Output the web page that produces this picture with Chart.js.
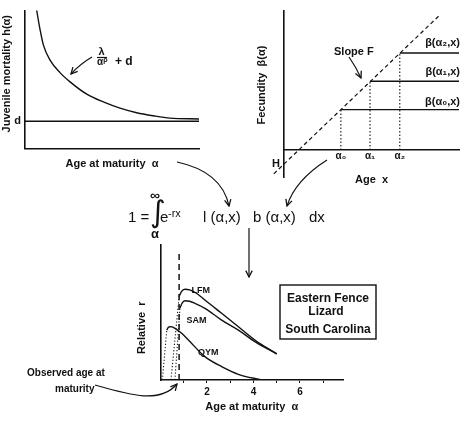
<!DOCTYPE html>
<html>
<head>
<meta charset="utf-8">
<script src="https://cdn.jsdelivr.net/npm/chart.js@4.4.0/dist/chart.umd.min.js"></script>
<style>
  body { margin: 0; background: #fff; }
  #wrap { position: relative; width: 474px; height: 428px; overflow: hidden; }
  #wrap canvas, #wrap svg { position: absolute; left: 0; top: 0; }
</style>
</head>
<body>
<div id="wrap">
  <canvas id="mortchart" width="474" height="428"></canvas>
  <canvas id="fecchart" width="474" height="428"></canvas>
  <canvas id="relchart" width="474" height="428"></canvas>
  <svg id="notes" width="474" height="428" viewBox="0 0 474 428">
    <defs>
      <marker id="tip" viewBox="0 0 10 10" refX="9" refY="5" markerUnits="userSpaceOnUse" markerWidth="8" markerHeight="8" orient="auto">
        <path d="M1,1 L9,5 L1,9" fill="none" stroke="#111" stroke-width="1.6"/>
      </marker>
    </defs>
    <g fill="none" stroke="#111" stroke-width="1.2">
      <path d="M92,57 Q80,64 71,74" marker-end="url(#tip)"/>
      <path d="M349,57 Q356,67 361,78" marker-end="url(#tip)"/>
      <path d="M177,162 C205,168 224,182 229,206" marker-end="url(#tip)"/>
      <path d="M327,160 C305,174 292,190 287,206" marker-end="url(#tip)"/>
      <path d="M249,228 L249,277" marker-end="url(#tip)"/>
      <path d="M95,385 C130,395 160,404 177,384" marker-end="url(#tip)"/>
      <path d="M97,57.5 H107"/>
      <rect x="280" y="285" width="96" height="54" stroke-width="1.4"/>
    </g>
    <g font-family="'Liberation Sans', Arial, sans-serif" font-weight="bold" fill="#111">
      <text x="101.5" y="55" font-size="11" text-anchor="middle">λ</text>
      <text x="97" y="65" font-size="10">α<tspan font-size="7" dy="-3">ρ</tspan></text>
      <text x="115" y="65" font-size="12">+ d</text>
      <text x="334" y="55" font-size="11">Slope F</text>
      <text x="460" y="45.5" font-size="11" text-anchor="end">β(α₂,x)</text>
      <text x="460" y="74.5" font-size="11" text-anchor="end">β(α₁,x)</text>
      <text x="460" y="104.5" font-size="11" text-anchor="end">β(α₀,x)</text>
      <text x="191.5" y="292.5" font-size="9">LFM</text>
      <text x="186.5" y="322.5" font-size="9">SAM</text>
      <text x="198" y="355" font-size="9">QYM</text>
      <text x="328" y="302" font-size="12" text-anchor="middle">Eastern Fence</text>
      <text x="326" y="314.5" font-size="12" text-anchor="middle">Lizard</text>
      <text x="328" y="332.5" font-size="12" text-anchor="middle">South Carolina</text>
      <text x="27" y="376" font-size="10">Observed age at</text>
      <text x="55" y="392" font-size="10">maturity</text>
    </g>
    <g font-family="'Liberation Sans', Arial, sans-serif" fill="#111">
      <text x="128" y="222" font-size="15">1 =</text>
      <text x="150" y="222" font-size="30" font-family="'DejaVu Sans', sans-serif">∫</text>
      <text x="150" y="200" font-size="14" font-weight="bold">∞</text>
      <text x="151" y="238" font-size="13" font-weight="bold">α</text>
      <text x="160" y="222" font-size="15">e</text>
      <text x="168" y="217" font-size="11">-rx</text>
      <text x="203" y="222" font-size="15">l (α,x)</text>
      <text x="253" y="222" font-size="15">b (α,x)</text>
      <text x="309" y="222" font-size="15">dx</text>
    </g>
  </svg>
</div>
<script>
// top left panel: juvenile mortality against age at maturity
var mortAge  = [0.62, 0.86, 1.05, 1.44, 2.01, 2.59, 3.55, 4.5, 5.46, 6.42, 7.37, 8.33, 10];
var mortRate = [10.4, 8.66, 7.54, 6.42, 5.52, 4.85, 3.96, 3.40, 2.95, 2.62, 2.40, 2.23, 2.17];
var baseD = 2;

// top right panel: fecundity against age
var maturityAges = [1.95, 2.95, 3.97];
var maturityFecundity = [1.45, 2.47, 3.48];
var ageTickLabels = ['α₀', 'α₁', 'α₂'];
var slopeX = [-0.35, 5.35];
var slopeY = [-0.85, 4.85];
var interceptH = -0.5;
var ageEnd = 6;

// bottom panel: relative r against age at maturity
var observedAge = 0.8;
var lfmDotAge = [0.45, 0.8];
var lfmDotR   = [0, 6.17];
var lfmAge = [0.8, 0.9, 1.05, 1.25, 1.48, 1.91, 2.63, 3.35, 4.06, 5.0];
var lfmR   = [6.17, 6.55, 6.72, 6.68, 6.5, 5.93, 4.94, 3.95, 2.96, 1.93];
var samDotAge = [0.62, 0.84];
var samDotR   = [0, 5.33];
var samAge = [0.84, 0.93, 1.05, 1.25, 1.48, 1.91, 2.63, 3.35, 4.06, 5.0];
var samR   = [5.33, 5.7, 5.87, 5.83, 5.68, 5.31, 4.44, 3.70, 2.84, 1.93];
var qymDotAge = [0.08, 0.27];
var qymDotR   = [0, 3.7];
var qymAge = [0.27, 0.34, 0.41, 0.5, 0.62, 0.91, 1.2, 1.91, 2.63, 3.35, 4.35];
var qymR   = [3.7, 3.9, 3.95, 3.93, 3.83, 3.46, 2.96, 1.73, 0.99, 0.42, 0];
var relTicks = [1, 2, 3, 4, 5, 6, 7];

Chart.defaults.font.family = "'Liberation Sans', Arial, sans-serif";
Chart.defaults.font.weight = 'bold';
Chart.defaults.font.size = 11;
Chart.defaults.color = '#111';

var ink = '#111';

function pts(xs, ys) {
    return xs.map(function (x, i) {
        return {x: x, y: ys[i]};
    });
}

function lineSet(xs, ys, extra) {
    var ds = {
        data: pts(xs, ys),
        borderColor: ink,
        borderWidth: 1.4,
        pointRadius: 0,
        fill: false,
        tension: 0
    };
    return Object.assign(ds, extra || {});
}

function baseOptions(pad) {
    return {
        responsive: false,
        animation: false,
        layout: {autoPadding: false, padding: pad},
        plugins: {legend: {display: false}, tooltip: {enabled: false}}
    };
}

var axisBorder = {color: ink, width: 1.6};
var smooth = {cubicInterpolationMode: 'monotone'};

// ---- juvenile mortality
var mortOpts = baseOptions({left: 0, right: 275, top: 0, bottom: 254});
mortOpts.scales = {
    x: {
        type: 'linear', min: 0, max: 10,
        afterFit: function (s) { s.height = 25; },
        ticks: {display: false},
        grid: {display: false, drawTicks: false},
        border: axisBorder,
        title: {display: true, text: 'Age at maturity  α', padding: {top: 0, bottom: 3}}
    },
    y: {
        min: 0, max: 10,
        afterFit: function (s) { s.width = 25; },
        afterBuildTicks: function (s) { s.ticks = [{value: baseD}]; },
        ticks: {callback: function () { return 'd'; }, padding: 4},
        grid: {display: false, drawTicks: false},
        border: axisBorder,
        title: {display: true, text: '    Juvenile mortality h(α)', padding: 0}
    }
};
new Chart(document.getElementById('mortchart').getContext('2d'), {
    type: 'line',
    data: {
        datasets: [
            lineSet(mortAge, mortRate, smooth),
            lineSet([0, 10], [baseD, baseD])
        ]
    },
    options: mortOpts
});

// ---- fecundity
var fecSets = [lineSet(slopeX, slopeY, {borderDash: [4, 3], borderWidth: 1.2, clip: false})];
for (var i = 0; i < maturityAges.length; i++) {
    fecSets.push(lineSet([maturityAges[i], maturityAges[i]], [0, maturityFecundity[i]], {borderDash: [1.5, 2], borderWidth: 1.1}));
    fecSets.push(lineSet([maturityAges[i], ageEnd], [maturityFecundity[i], maturityFecundity[i]]));
}
var fecOpts = baseOptions({left: 254, right: 15, top: 3, bottom: 250});
fecOpts.scales = {
    x: {
        type: 'linear', min: 0, max: ageEnd,
        position: {y: 0},
        afterFit: function (s) { s.height = 36; },
        afterBuildTicks: function (s) {
            s.ticks = maturityAges.map(function (a) { return {value: a}; });
        },
        ticks: {
            padding: 0, font: {size: 10},
            callback: function (v, idx) { return ageTickLabels[idx]; }
        },
        grid: {display: false, drawTicks: false},
        border: axisBorder,
        title: {display: true, text: 'Age  x', padding: 0}
    },
    y: {
        min: -1, max: 5,
        afterFit: function (s) { s.width = 30; },
        afterBuildTicks: function (s) { s.ticks = [{value: interceptH}]; },
        ticks: {callback: function () { return 'H'; }, padding: 4},
        grid: {display: false, drawTicks: false},
        border: axisBorder,
        title: {display: true, text: '      Fecundity  β(α)', padding: {top: 1, bottom: 0}}
    }
};
new Chart(document.getElementById('fecchart').getContext('2d'), {
    type: 'line',
    data: {datasets: fecSets},
    options: fecOpts
});

// ---- relative r
var dots = {borderDash: [1.2, 2], borderWidth: 1.1};
var relOpts = baseOptions({left: 135.5, right: 131, top: 245, bottom: 14});
relOpts.scales = {
    x: {
        type: 'linear', min: 0, max: 7.85,
        afterFit: function (s) { s.height = 34; },
        afterBuildTicks: function (s) {
            s.ticks = relTicks.map(function (t) { return {value: t}; });
        },
        ticks: {
            padding: 3, font: {size: 10}, maxRotation: 0, autoSkip: false,
            callback: function (v) { return v % 2 === 0 ? String(v) : ''; }
        },
        grid: {drawOnChartArea: false, drawTicks: true, tickLength: 3, color: ink},
        border: axisBorder,
        title: {display: true, text: 'Age at maturity  α', padding: 0}
    },
    y: {
        min: 0, max: 10,
        afterFit: function (s) { s.width = 25; },
        ticks: {display: false},
        grid: {display: false, drawTicks: false},
        border: axisBorder,
        title: {display: true, text: 'Relative  r          ', padding: 0}
    }
};
new Chart(document.getElementById('relchart').getContext('2d'), {
    type: 'line',
    data: {
        datasets: [
            lineSet([observedAge, observedAge], [0, 9.4], {borderDash: [6, 4], borderWidth: 1.5}),
            lineSet(qymDotAge, qymDotR, dots),
            lineSet(lfmDotAge, lfmDotR, dots),
            lineSet(samDotAge, samDotR, dots),
            lineSet(lfmAge, lfmR, smooth),
            lineSet(samAge, samR, smooth),
            lineSet(qymAge, qymR, smooth)
        ]
    },
    options: relOpts
});
</script>
</body>
</html>
